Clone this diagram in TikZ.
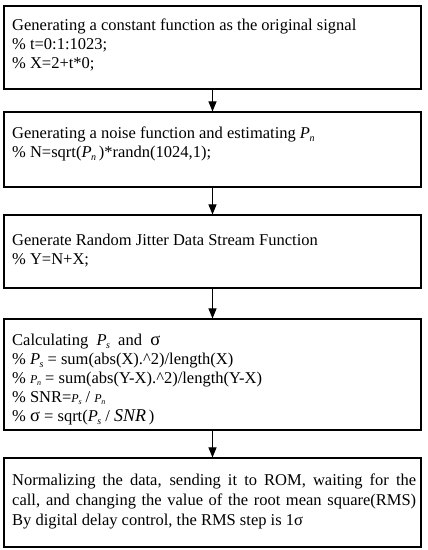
\documentclass[tikz,border=0pt]{standalone}
\usepackage{fontspec}
\setmainfont{Liberation Serif}
\usetikzlibrary{arrows.meta}
\newcommand{\Pv}[1]{\textit{P}\kern-0.5pt\raisebox{-0.4ex}{\fontsize{10}{10}\selectfont\itshape #1}}
\newcommand{\Psm}[1]{{\fontsize{12}{12}\selectfont\textit{P}\kern-0.3pt\raisebox{-0.4ex}{\fontsize{8}{8}\selectfont\itshape #1}}}
\newcommand{\sig}{{\fontsize{18.5}{19}\selectfont σ}}
\begin{document}
\begin{tikzpicture}[x=1pt,y=-1pt,
  box/.style={draw, line width=1.1pt, minimum width=417pt, inner sep=0pt},
  txt/.style={anchor=north west, align=left, inner sep=0pt, font=\fontsize{16.5}{19}\selectfont},
  flow/.style={-{Triangle[length=10pt,width=8pt]}, line width=1pt}]
\useasboundingbox (0,0) rectangle (428,550);
\node[box, minimum height=83pt] (b1) at (212.5,47.5) {};
\node[box, minimum height=75pt] (b2) at (212.5,149.5) {};
\node[box, minimum height=73pt] (b3) at (212.5,251.5) {};
\node[box, minimum height=111pt] (b4) at (212.5,374.5) {};
\node[box, minimum height=89pt] (b5) at (212.5,502.5) {};
\draw[flow] (b1.south) -- (b2.north);
\draw[flow] (b2.south) -- (b3.north);
\draw[flow] (b3.south) -- (b4.north);
\draw[flow] (b4.south) -- (b5.north);
\node[txt] (t1) at (12,19) {Generating a constant function as the original signal\\ \% t=0:1:1023;\\ \% X=2+t*0;};
\node[txt] (t2) at (12,127) {Generating a noise function and estimating \Pv{n}\\ \% N=sqrt(\Pv{n}\,)*randn(1024,1);};
\node[txt] (t3) at (12,234) {Generate Random Jitter Data Stream Function\\ \% Y=N+X;};
\node[txt] (t4) at (12,334) {Calculating \ \Pv{s} \ and \ \sig\\ \% \Pv{s} = sum(abs(X).\textasciicircum2)/length(X)\\ \% \Psm{n} = sum(abs(Y-X).\textasciicircum2)/length(Y-X)\\ \% SNR=\Psm{s} / \Psm{n}\\ \% \sig\ = sqrt(\Pv{s} / {\fontsize{18}{19}\selectfont\itshape SNR}\,)};
\node[txt, font=\fontsize{16.5}{20}\selectfont] (t5) at (12,474) {\makebox[404pt][s]{Normalizing the data, sending it to ROM, waiting for the}\\ \makebox[404pt][s]{call, and changing the value of the root mean square(RMS)}\\ By digital delay control, the RMS step is 1σ};
\end{tikzpicture}
\end{document}
